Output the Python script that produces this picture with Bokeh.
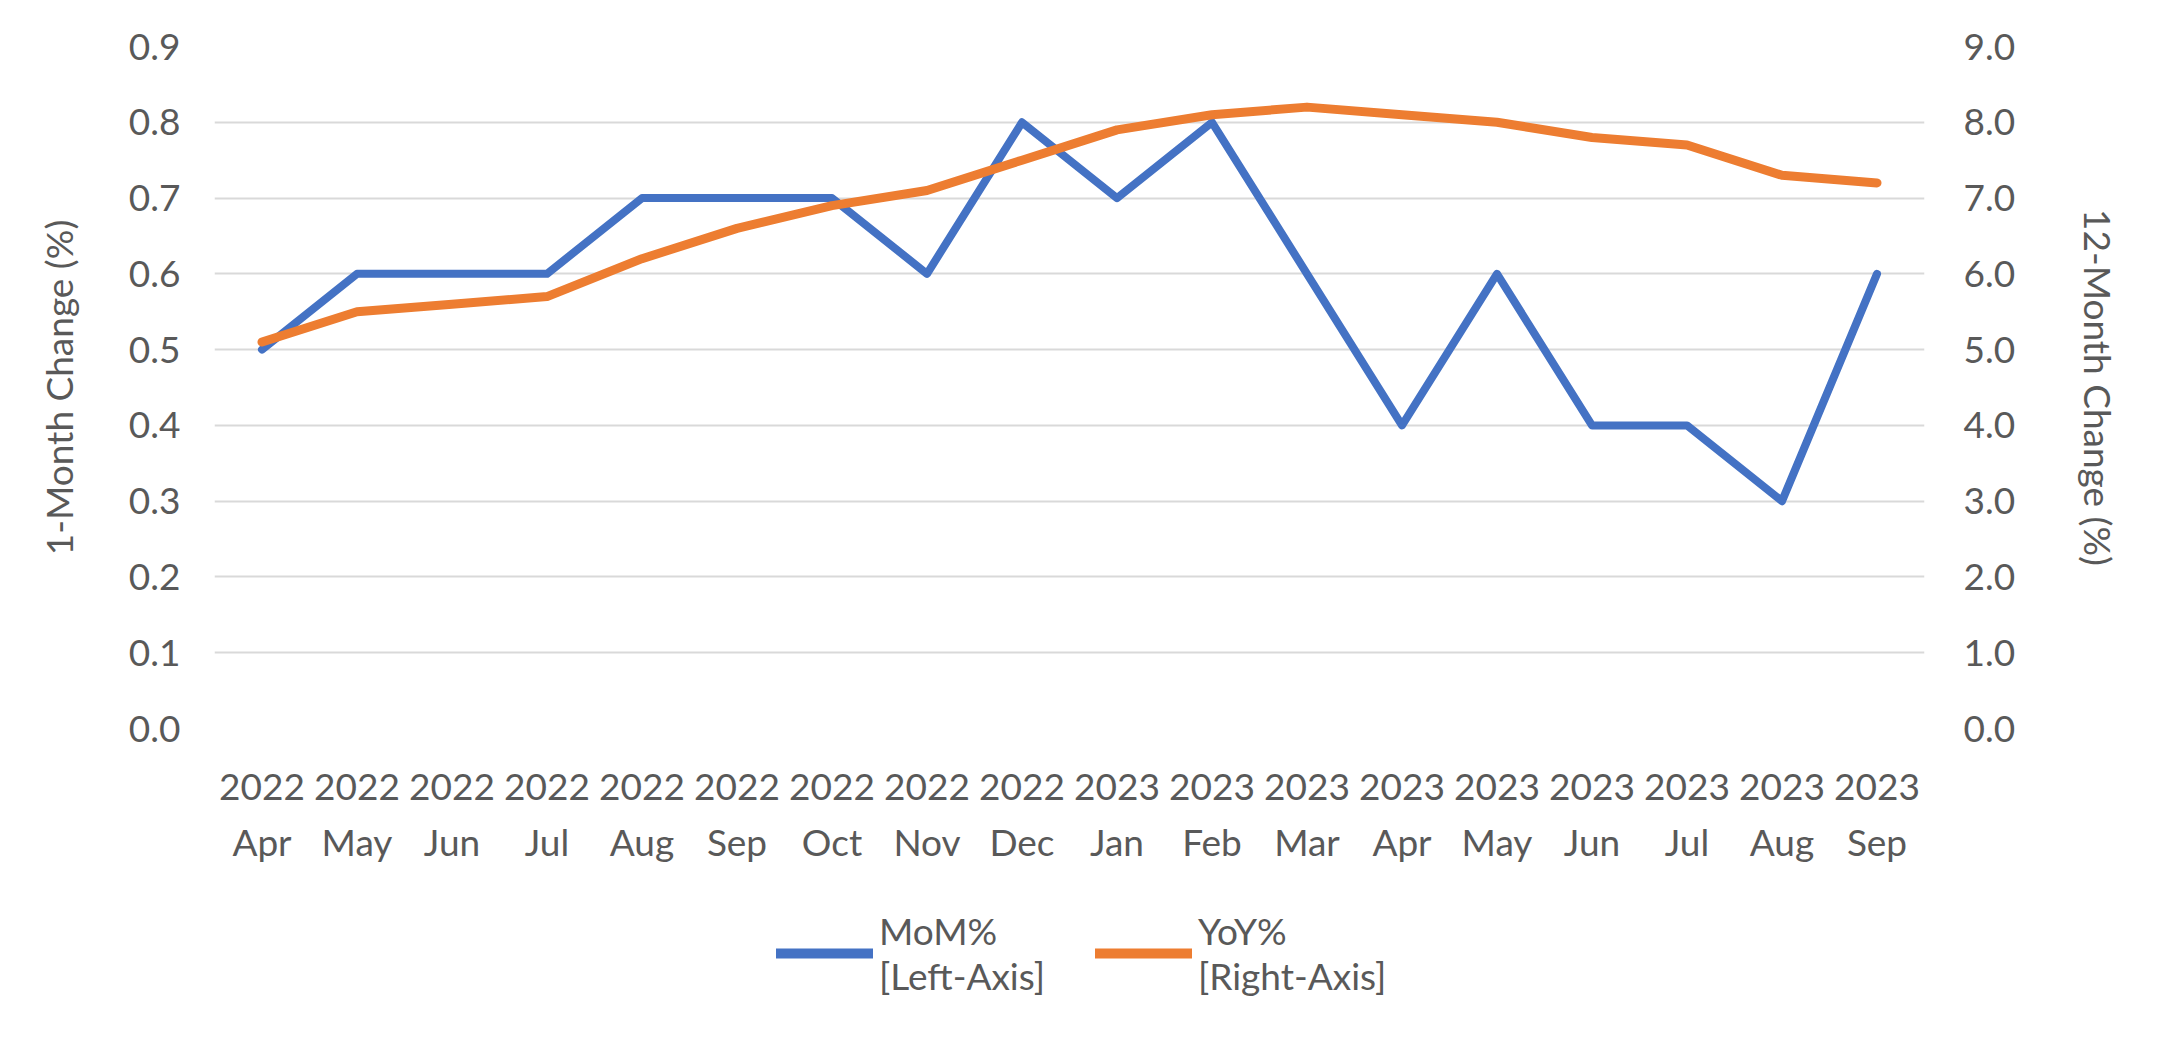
from bokeh.plotting import figure
from bokeh.layouts import column
from bokeh.models import (Range1d, LinearAxis, FixedTicker, FactorRange, Legend, LegendItem,
                          NumeralTickFormatter)
from bokeh.embed import file_html
from bokeh.resources import INLINE

years = ["2022", "2022", "2022", "2022", "2022", "2022", "2022", "2022", "2022",
         "2023", "2023", "2023", "2023", "2023", "2023", "2023", "2023", "2023"]
months = ["Apr", "May", "Jun", "Jul", "Aug", "Sep", "Oct", "Nov", "Dec",
          "Jan", "Feb", "Mar", "Apr", "May", "Jun", "Jul", "Aug", "Sep"]
mom = [0.5, 0.6, 0.6, 0.6, 0.7, 0.7, 0.7, 0.6, 0.8, 0.7, 0.8, 0.6, 0.4, 0.6, 0.4, 0.4, 0.3, 0.6]
yoy = [5.1, 5.5, 5.6, 5.7, 6.2, 6.6, 6.9, 7.1, 7.5, 7.9, 8.1, 8.2, 8.1, 8.0, 7.8, 7.7, 7.3, 7.2]
left_ticks = [0.0, 0.1, 0.2, 0.3, 0.4, 0.5, 0.6, 0.7, 0.8, 0.9]
right_ticks = [0.0, 1.0, 2.0, 3.0, 4.0, 5.0, 6.0, 7.0, 8.0, 9.0]
series_names = ["MoM%\n[Left-Axis]", "YoY%\n[Right-Axis]"]

labels = [f"{y}\n{m}" for y, m in zip(years, months)]

FONT = "Lato"
TXT = "#595959"
FS = "37px"
BLUE = "#4472C4"
ORANGE = "#ED7D31"

p = figure(width=2142, height=872, x_range=FactorRange(*labels, range_padding=0),
           y_range=Range1d(0, 0.9), output_backend="svg", toolbar_location=None,
           min_border_left=214, min_border_right=218, min_border_top=46, min_border_bottom=144)
p.extra_y_ranges = {"right": Range1d(0, 9)}
p.outline_line_color = None
p.background_fill_color = "white"
p.border_fill_color = "white"

r1 = p.line(labels, mom, line_color=BLUE, line_width=8, line_join="round", line_cap="round")
r2 = p.line(labels, yoy, line_color=ORANGE, line_width=9, line_join="round", line_cap="round",
            y_range_name="right")

p.xgrid.grid_line_color = None
p.ygrid.grid_line_color = "#D9D9D9"
p.ygrid.grid_line_width = 2
p.ygrid.ticker = FixedTicker(ticks=left_ticks)

ax = p.xaxis[0]
ax.axis_line_color = None
ax.major_tick_line_color = None
ax.minor_tick_line_color = None
ax.major_tick_out = 0
ax.major_label_text_font = FONT
ax.major_label_text_font_size = FS
ax.major_label_text_color = TXT
ax.major_label_text_line_height = 1.25
ax.major_label_standoff = 34

ly = p.yaxis[0]
ly.ticker = FixedTicker(ticks=left_ticks)
ly.formatter = NumeralTickFormatter(format="0.0")
ly.axis_label = "1-Month Change (%)"

ry = LinearAxis(y_range_name="right", ticker=FixedTicker(ticks=right_ticks),
                formatter=NumeralTickFormatter(format="0.0"), axis_label="12-Month Change (%)")
p.add_layout(ry, "right")

for a, st, lst in ((ly, 34, 45), (ry, 39, 58)):
    a.axis_line_color = None
    a.major_tick_line_color = None
    a.minor_tick_line_color = None
    a.major_tick_out = 0
    a.major_tick_in = 0
    a.major_label_text_font = FONT
    a.major_label_text_font_size = FS
    a.major_label_text_color = TXT
    a.major_label_standoff = st
    a.axis_label_text_font = FONT
    a.axis_label_text_font_size = FS
    a.axis_label_text_color = TXT
    a.axis_label_text_font_style = "normal"
    a.axis_label_standoff = lst

# legend strip below the chart (its lines lie outside its view; only their legend keys show)
lf = figure(width=2142, height=166, x_range=FactorRange(*labels, range_padding=0),
            y_range=Range1d(10, 11), x_axis_type=None, y_axis_type=None,
            output_backend="svg", toolbar_location=None, min_border=0)
lf.outline_line_color = None
lf.grid.visible = False
lf.background_fill_color = "white"
lf.border_fill_color = "white"
g1 = lf.line(labels, mom, line_color=BLUE, line_width=10, line_cap="round")
g2 = lf.line(labels, yoy, line_color=ORANGE, line_width=10, line_cap="round")

legend = Legend(items=[LegendItem(label=series_names[0], renderers=[g1]),
                       LegendItem(label=series_names[1], renderers=[g2])],
                orientation="horizontal", location=(562, 40))
legend.label_text_font = FONT
legend.label_text_font_size = FS
legend.label_text_color = TXT
legend.label_text_line_height = 1.35
legend.border_line_color = None
legend.background_fill_alpha = 0
legend.glyph_width = 97
legend.glyph_height = 40
legend.label_standoff = 6
legend.spacing = 50
legend.padding = 0
legend.margin = 0
lf.add_layout(legend, "center")

layout = column(p, lf, spacing=0)

open("out.html", "w").write(file_html(layout, INLINE))
